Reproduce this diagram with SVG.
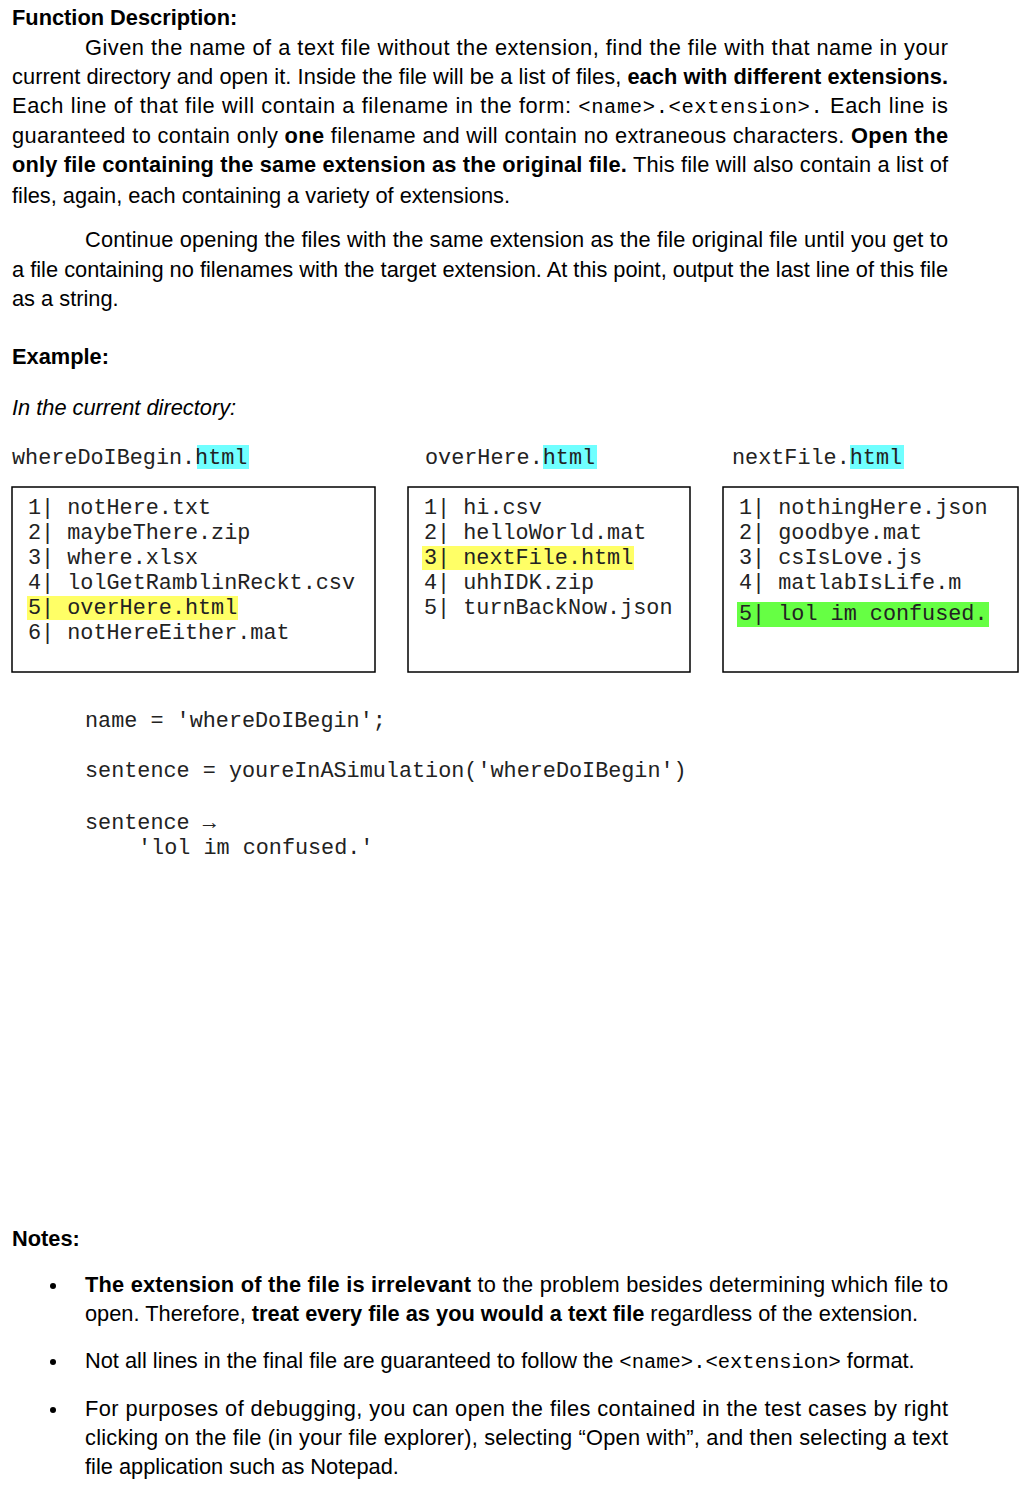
<svg xmlns="http://www.w3.org/2000/svg" width="1024" height="1486" viewBox="0 0 1024 1486">
<style>
text{font-family:"Liberation Sans",Arial,sans-serif;font-size:21.8px;fill:#000}
.b{font-weight:bold}
.m{font-family:"Liberation Mono","Courier New",monospace;font-size:20.5px}
.c{font-family:"Liberation Mono","Courier New",monospace;font-size:21.8px;fill:#222}
.box{fill:none;stroke:#000;stroke-width:1.5}
</style>
<rect width="1024" height="1486" fill="#fff"/>
<text x="12" y="25" class="b">Function Description:</text>
<text x="85" y="55" textLength="863" lengthAdjust="spacing">Given the name of a text file without the extension, find the file with that name in your</text>
<text x="12" y="84" textLength="936" lengthAdjust="spacing">current directory and open it. Inside the file will be a list of files, <tspan class="b">each with different extensions.</tspan></text>
<text x="12" y="113" textLength="936" lengthAdjust="spacing">Each line of that file will contain a filename in the form: <tspan class="m">&lt;name&gt;.&lt;extension&gt;.</tspan> Each line is</text>
<text x="12" y="143" textLength="936" lengthAdjust="spacing">guaranteed to contain only <tspan class="b">one</tspan> filename and will contain no extraneous characters. <tspan class="b">Open the</tspan></text>
<text x="12" y="172" textLength="936" lengthAdjust="spacing"><tspan class="b">only file containing the same extension as the original file.</tspan> This file will also contain a list of</text>
<text x="12" y="203">files, again, each containing a variety of extensions.</text>
<text x="85" y="247" textLength="863" lengthAdjust="spacing">Continue opening the files with the same extension as the file original file until you get to</text>
<text x="12" y="277" textLength="936" lengthAdjust="spacing">a file containing no filenames with the target extension. At this point, output the last line of this file</text>
<text x="12" y="306">as a string.</text>
<text x="12" y="364" class="b">Example:</text>
<text x="12" y="415" font-style="italic">In the current directory:</text>

<g id="file1">
<rect x="197" y="445" width="52" height="24" fill="#70FFFF"/>
<text x="12" y="464" class="c">whereDoIBegin.html</text>
<rect class="box" x="12" y="487" width="363" height="185"/>
<rect x="27" y="596" width="211" height="24" fill="#FFFF66"/>
<text class="c" x="28" y="514">1| notHere.txt</text>
<text class="c" x="28" y="539">2| maybeThere.zip</text>
<text class="c" x="28" y="564">3| where.xlsx</text>
<text class="c" x="28" y="589">4| lolGetRamblinReckt.csv</text>
<text class="c" x="28" y="614">5| overHere.html</text>
<text class="c" x="28" y="639">6| notHereEither.mat</text>
</g>
<g id="file2">
<rect x="543" y="445" width="54" height="24" fill="#70FFFF"/>
<text x="425" y="464" class="c">overHere.html</text>
<rect class="box" x="408" y="487" width="282" height="185"/>
<rect x="422" y="546" width="212" height="24" fill="#FFFF66"/>
<text class="c" x="424" y="514">1| hi.csv</text>
<text class="c" x="424" y="539">2| helloWorld.mat</text>
<text class="c" x="424" y="564">3| nextFile.html</text>
<text class="c" x="424" y="589">4| uhhIDK.zip</text>
<text class="c" x="424" y="614">5| turnBackNow.json</text>
</g>
<g id="file3">
<rect x="850" y="445" width="54" height="24" fill="#70FFFF"/>
<text x="732" y="464" class="c">nextFile.html</text>
<rect class="box" x="723" y="487" width="295" height="185"/>
<rect x="737" y="602" width="252" height="25" fill="#66FF44"/>
<text class="c" x="739" y="514">1| nothingHere.json</text>
<text class="c" x="739" y="539">2| goodbye.mat</text>
<text class="c" x="739" y="564">3| csIsLove.js</text>
<text class="c" x="739" y="589">4| matlabIsLife.m</text>
<text class="c" x="739" y="620">5| lol im confused.</text>
</g>

<text class="c" x="85" y="727">name = 'whereDoIBegin';</text>
<text class="c" x="85" y="777">sentence = youreInASimulation('whereDoIBegin')</text>
<text class="c" x="85" y="829">sentence →</text>
<text class="c" x="138" y="854">'lol im confused.'</text>

<text x="12" y="1246" class="b">Notes:</text>
<circle cx="53" cy="1286" r="3"/>
<circle cx="53" cy="1362" r="3"/>
<circle cx="53" cy="1410" r="3"/>
<text x="85" y="1292" textLength="863" lengthAdjust="spacing"><tspan class="b">The extension of the file is irrelevant</tspan> to the problem besides determining which file to</text>
<text x="85" y="1321">open. Therefore, <tspan class="b">treat every file as you would a text file</tspan> regardless of the extension.</text>
<text x="85" y="1368">Not all lines in the final file are guaranteed to follow the <tspan class="m">&lt;name&gt;.&lt;extension&gt;</tspan> format.</text>
<text x="85" y="1416" textLength="863" lengthAdjust="spacing">For purposes of debugging, you can open the files contained in the test cases by right</text>
<text x="85" y="1445" textLength="863" lengthAdjust="spacing">clicking on the file (in your file explorer), selecting “Open with”, and then selecting a text</text>
<text x="85" y="1474">file application such as Notepad.</text>
</svg>
